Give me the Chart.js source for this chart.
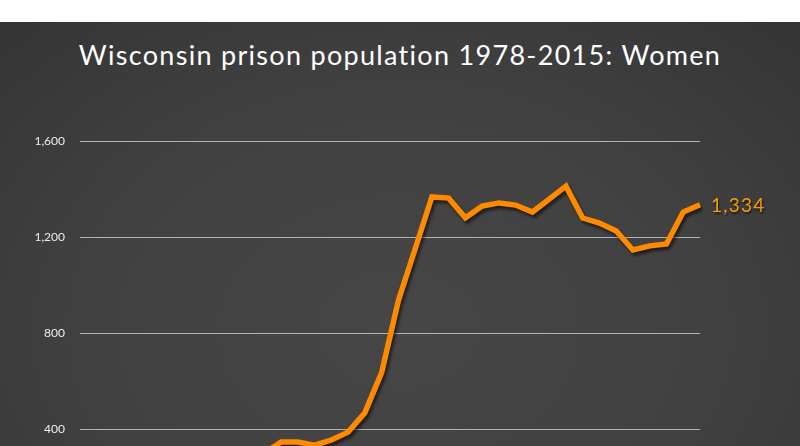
<!DOCTYPE html>
<html lang="en">
<head>
  <meta charset="UTF-8">
  <title>Wisconsin prison population 1978-2015: Women</title>
  <script src="https://cdn.jsdelivr.net/npm/chart.js"></script>
  <style>
    html, body {
      margin: 0;
      padding: 0;
      width: 800px;
      height: 446px;
      overflow: hidden;
      background: #fff;
    }

    .slide {
      position: absolute;
      left: 0;
      top: 22px;
      width: 800px;
      height: 560px;
      background: radial-gradient(ellipse 70% 75% at 50% 55%, #464646 0%, #414141 55%, #353535 100%);
    }

    h1 {
      position: absolute;
      left: 0;
      top: 16px;
      width: 800px;
      margin: 0;
      text-align: center;
      color: #fff;
      font-family: 'Lato', sans-serif;
      font-weight: 400;
      font-size: 27px;
      letter-spacing: 1.3px;
    }

    .chart-box {
      position: absolute;
      left: 0;
      top: 0;
      width: 800px;
      height: 540px;
    }
  </style>
</head>
<body>
  <div class="slide">
    <h1>Wisconsin prison population 1978-2015: Women</h1>
    <div class="chart-box"><canvas id="prisonChart"></canvas></div>
  </div>

  <script>
    const years = [];
    for (let y = 1978; y <= 2015; y++) years.push(String(y));

    // women in Wisconsin prisons (1978-1989 sit below the visible crop)
    const women = [
      110, 115, 125, 140, 150, 165, 185, 200, 220, 240, 270, 300,
      346, 346, 333, 354, 387, 468, 635, 935, 1150, 1367,
      1362, 1280, 1329, 1342, 1333, 1304, 1358, 1412, 1279, 1258,
      1225, 1146, 1163, 1171, 1304, 1334
    ];

    const yTicks = [400, 800, 1200, 1600];

    const lineShadow = {
      id: 'lineShadow',
      beforeDatasetDraw(chart) {
        const c = chart.ctx;
        c.save();
        c.shadowColor = 'rgba(0,0,0,0.55)';
        c.shadowBlur = 3;
        c.shadowOffsetX = 2;
        c.shadowOffsetY = 3;
      },
      afterDatasetDraw(chart) {
        chart.ctx.restore();
      }
    };

    const endLabel = {
      id: 'endLabel',
      afterDatasetsDraw(chart) {
        const meta = chart.getDatasetMeta(0);
        const last = meta.data[meta.data.length - 1];
        const v = women[women.length - 1];
        const c = chart.ctx;
        c.save();
        c.font = '19px Lato, sans-serif';
        c.letterSpacing = '1.2px';
        c.fillStyle = '#f59d00';
        c.textAlign = 'left';
        c.textBaseline = 'middle';
        c.shadowColor = 'rgba(0,0,0,0.6)';
        c.shadowBlur = 2;
        c.shadowOffsetX = 1;
        c.shadowOffsetY = 2;
        c.fillText(v.toLocaleString('en-US'), last.x + 11, last.y + 1);
        c.restore();
      }
    };

    new Chart(document.getElementById('prisonChart'), {
      type: 'line',
      data: {
        labels: years,
        datasets: [{
          data: women,
          borderColor: '#ff8a00',
          borderWidth: 5.5,
          pointRadius: 0,
          tension: 0,
          borderJoinStyle: 'miter',
          fill: false
        }]
      },
      options: {
        responsive: true,
        maintainAspectRatio: false,
        animation: false,
        layout: { padding: { left: 22, right: 100, top: 119, bottom: 37 } },
        plugins: {
          legend: { display: false },
          tooltip: { enabled: false }
        },
        scales: {
          x: { display: false, offset: false },
          y: {
            min: 0,
            max: 1600,
            afterFit(scale) { scale.width = 58; },
            afterBuildTicks(scale) {
              scale.ticks = yTicks.map(v => ({ value: v }));
            },
            border: { display: false },
            grid: {
              color: 'rgba(200,200,200,0.85)',
              lineWidth: 1,
              drawTicks: false
            },
            ticks: {
              color: '#ececec',
              padding: 15,
              font: { family: 'Lato, sans-serif', size: 12 },
              callback: v => v.toLocaleString('en-US')
            }
          }
        }
      },
      plugins: [lineShadow, endLabel]
    });
  </script>
</body>
</html>
